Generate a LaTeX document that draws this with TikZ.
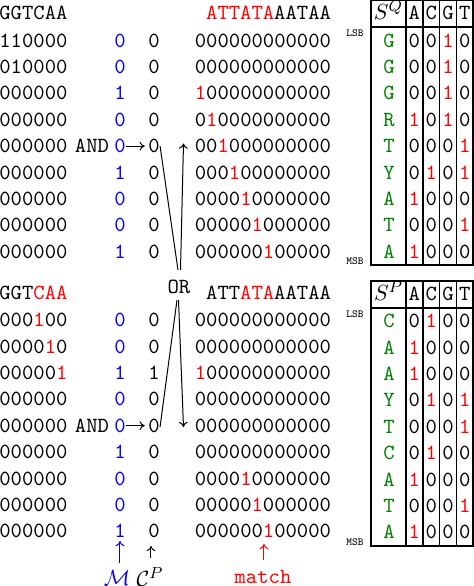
\documentclass[tikz,border=0pt]{standalone}
\usetikzlibrary{arrows.meta}
\definecolor{dkgreen}{rgb}{0,0.5,0}
\newcommand\rd[1]{\textcolor{red}{#1}}
\newcommand\bitc[1]{\ifnum#1=1 \textcolor{red}{1}\else 0\fi}
\begin{document}
\begin{tikzpicture}[x=0.5pt,y=-0.5pt,
  tt/.style={inner sep=0pt, font=\ttfamily\fontsize{10.8}{12}\selectfont},
  bitstr/.style={tt, anchor=base west},
  dig/.style={tt, anchor=base},
  mdig/.style={dig, text=blue},
  mlab/.style={inner sep=0pt, font=\fontsize{10.8}{12}\selectfont},
  tab/.style={line width=0.8pt},
  sml/.style={inner sep=0pt, font=\ttfamily\fontsize{5.4}{6}\selectfont},
  conn/.style={line width=0.5pt},
  arr/.style={conn, -{To[length=2.6pt,width=4.4pt]}},
]
\useasboundingbox (0,0) rectangle (474,586);

% ================= TOP SECTION =================
\node[bitstr] (tlh) at (-1,19.6) {GGTCAA};
\node[bitstr] (trh) at (205.8,19.6) {\rd{ATTATA}AATAA};
\foreach \s [count=\i from 0] in {110000,010000,000000,000000,000000,000000,000000,000000,000000}
  \node[bitstr] (tl\i) at (-1,{47.1+26.4*\i}) {\s};
\foreach \s [count=\i from 0] in {0,0,1,0,0,1,0,0,1}
  \node[mdig] (tb\i) at (120,{47.1+26.4*\i}) {\s};
\foreach \s [count=\i from 0] in {0,0,0,0,0,0,0,0,0}
  \node[dig] (tc\i) at (154,{47.1+26.4*\i}) {\s};
\foreach \s [count=\i from 0] in {000000000000,000000000000,\rd{1}00000000000,0\rd{1}0000000000,00\rd{1}000000000,000\rd{1}00000000,0000\rd{1}0000000,00000\rd{1}000000,000000\rd{1}00000}
  \node[bitstr] (tr\i) at (194.5,{47.1+26.4*\i}) {\s};
\node[dig] (tand) at (92,{47.1+26.4*4}) {AND};

% ================= BOTTOM SECTION =================
\node[bitstr] (blh) at (-1,299.1) {GGT\rd{CAA}};
\node[bitstr] (brh) at (205.8,299.1) {ATT\rd{ATA}AATAA};
\foreach \s [count=\i from 0] in {000\rd{1}00,0000\rd{1}0,00000\rd{1},000000,000000,000000,000000,000000,000000}
  \node[bitstr] (bl\i) at (-1,{326.6+26.4*\i}) {\s};
\foreach \s [count=\i from 0] in {0,0,1,0,0,1,0,0,1}
  \node[mdig] (bb\i) at (120,{326.6+26.4*\i}) {\s};
\foreach \s [count=\i from 0] in {0,0,1,0,0,0,0,0,0}
  \node[dig] (bc\i) at (154,{326.6+26.4*\i}) {\s};
\foreach \s [count=\i from 0] in {000000000000,000000000000,\rd{1}00000000000,000000000000,000000000000,000000000000,0000\rd{1}0000000,00000\rd{1}000000,000000\rd{1}00000}
  \node[bitstr] (br\i) at (194.5,{326.6+26.4*\i}) {\s};
\node[dig] (band) at (92,{326.6+26.4*4}) {AND};

% ================= OR and connectors =================
\node[dig] (or) at (179,293) {OR};
\coordinate (orTa) at (178,270);
\coordinate (orTb) at (180.5,270);
\coordinate (tup) at (183.5,143.5);
\coordinate (orBa) at (177,300);
\coordinate (orBb) at (178.5,300);
\coordinate (bdn) at (183.5,427);

\draw[arr, shorten >=1.6pt] (tb4.east) -- (tc4.west);
\draw[arr, shorten >=1.6pt] (bb4.east) -- (bc4.west);
\draw[conn] (tc4.east) -- (orTa);
\draw[arr] (orTb) -- (tup);
\draw[conn] ([yshift=-0.6pt]bc4.east) -- (orBa);
\draw[arr] (orBb) -- (bdn);

% ================= bottom labels =================
\node[mlab, text=blue] (Mlab) at (117,578) {$\mathcal{M}$};
\node[mlab] (Clab) at (150,577) {$\mathcal{C}^P$};
\node[tt, text=red] (match) at (263,577) {match};
\coordinate (Mtail) at (120,563);
\coordinate (Mtip) at (120,541);
\coordinate (Ctail) at (151,558);
\coordinate (Ctip) at (151,546);
\coordinate (mtail) at (264,560);
\coordinate (mtip) at (264,544);
\draw[arr, blue] (Mtail) -- (Mtip);
\draw[arr] (Ctail) -- (Ctip);
\draw[arr, red] (mtail) -- (mtip);

% ================= tables =================
\foreach \yo/\nm/\hd in {0/q/Q, 281/p/P} {
  \begin{scope}[shift={(0,\yo)}]
    \draw[tab] (371,0) rectangle (473.2,265);
    \draw[tab] (371,27) -- (473.2,27);
    \foreach \xx in {406,422.8,439.6,456.4}
      \draw[tab] (\xx,0) -- (\xx,265);
    \node[mlab, anchor=base] (\nm-h) at (388.5,19.6) {$S^{\hd}$};
    \node[dig] (\nm-hA) at (414.4,19.6) {A};
    \node[dig] (\nm-hC) at (431.2,19.6) {C};
    \node[dig] (\nm-hG) at (448,19.6) {G};
    \node[dig] (\nm-hT) at (464.8,19.6) {T};
    \node[sml] (\nm-lsb) at (355,33) {LSB};
    \node[sml] (\nm-msb) at (355,261) {MSB};
  \end{scope}
}
\foreach \L/\a/\c/\g/\t [count=\i from 0] in {G/0/0/1/0,G/0/0/1/0,G/0/0/1/0,R/1/0/1/0,T/0/0/0/1,Y/0/1/0/1,A/1/0/0/0,T/0/0/0/1,A/1/0/0/0} {
  \node[dig, text=dkgreen] (q-L\i) at (389,{47.1+26.4*\i}) {\L};
  \node[dig] (q-A\i) at (414.4,{47.1+26.4*\i}) {\bitc{\a}};
  \node[dig] (q-C\i) at (431.2,{47.1+26.4*\i}) {\bitc{\c}};
  \node[dig] (q-G\i) at (448,{47.1+26.4*\i}) {\bitc{\g}};
  \node[dig] (q-T\i) at (464.8,{47.1+26.4*\i}) {\bitc{\t}};
}
\foreach \L/\a/\c/\g/\t [count=\i from 0] in {C/0/1/0/0,A/1/0/0/0,A/1/0/0/0,Y/0/1/0/1,T/0/0/0/1,C/0/1/0/0,A/1/0/0/0,T/0/0/0/1,A/1/0/0/0} {
  \node[dig, text=dkgreen] (p-L\i) at (389,{327.6+26.4*\i}) {\L};
  \node[dig] (p-A\i) at (414.4,{327.6+26.4*\i}) {\bitc{\a}};
  \node[dig] (p-C\i) at (431.2,{327.6+26.4*\i}) {\bitc{\c}};
  \node[dig] (p-G\i) at (448,{327.6+26.4*\i}) {\bitc{\g}};
  \node[dig] (p-T\i) at (464.8,{327.6+26.4*\i}) {\bitc{\t}};
}
\end{tikzpicture}
\end{document}
